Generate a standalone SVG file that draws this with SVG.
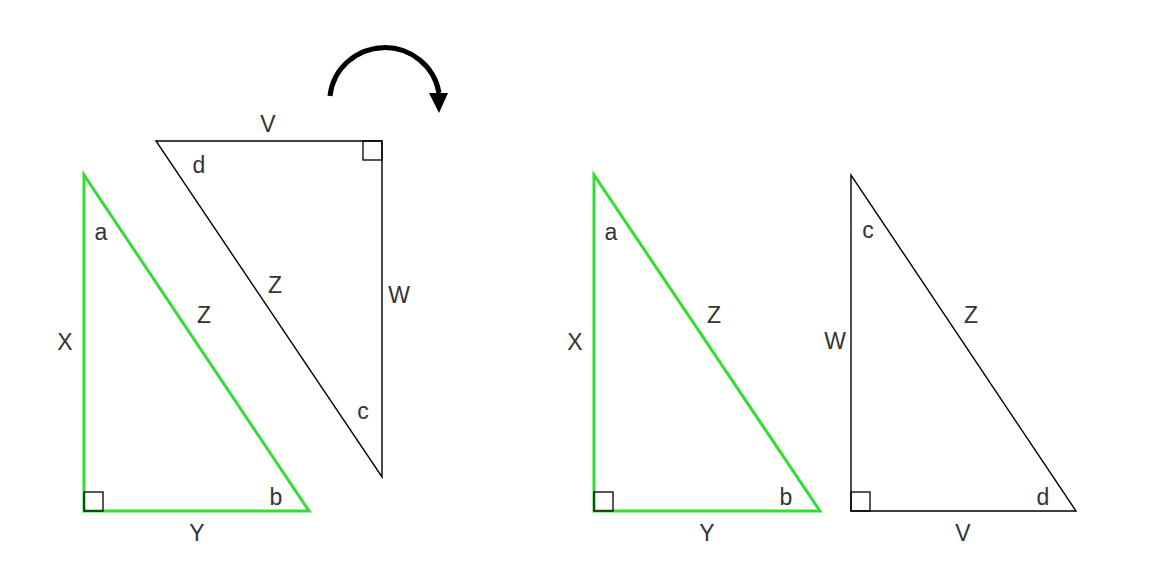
<svg xmlns="http://www.w3.org/2000/svg" width="1151" height="588" viewBox="0 0 1151 588">
<style>
.bg{fill:#ffffff}
.green{fill:none;stroke:#33dd33;stroke-width:3;stroke-linejoin:miter}
.black{fill:none;stroke:#000000;stroke-width:1.4}
.sq{fill:none;stroke:#000000;stroke-width:1.3}
.lbl{font-family:"Liberation Sans",Arial,sans-serif;font-size:23px;fill:#333333;text-anchor:middle}
.rot{fill:none;stroke:#000000;stroke-width:5;stroke-linecap:butt}
</style>
<defs>
<marker id="ah" viewBox="0 0 10 10" refX="5" refY="0" markerWidth="4" markerHeight="4" orient="auto" markerUnits="strokeWidth">
<path d="M0,0 L10,0 L5,10 Z" fill="#000000"/>
</marker>
</defs>
<rect class="bg" x="0" y="0" width="1151" height="588"/>
<g id="rotate-arrow">
<path class="rot" d="M330,96 A55,54 0 0 1 439,93"/>
<path d="M429,93 L448,93 L439,113 Z" fill="#000000"/>
</g>
<g id="tri-left-green">
<polygon class="green" points="84,175 84,511 309,511"/>
<rect class="sq" x="84" y="492" width="19" height="19"/>
<text class="lbl" x="101" y="240">a</text>
<text class="lbl" x="204" y="323">Z</text>
<text class="lbl" x="65" y="350">X</text>
<text class="lbl" x="276" y="505">b</text>
<text class="lbl" x="197" y="541">Y</text>
</g>
<g id="tri-left-black">
<polygon class="black" points="156,141 382,141 382,477"/>
<rect class="sq" x="363" y="141" width="19" height="19"/>
<text class="lbl" x="268" y="132">V</text>
<text class="lbl" x="199" y="173">d</text>
<text class="lbl" x="275" y="293">Z</text>
<text class="lbl" x="399" y="303">W</text>
<text class="lbl" x="363" y="419">c</text>
</g>
<g id="tri-right-green">
<polygon class="green" points="594,175 594,511 820,511"/>
<rect class="sq" x="594" y="492" width="19" height="19"/>
<text class="lbl" x="611" y="240">a</text>
<text class="lbl" x="714" y="323">Z</text>
<text class="lbl" x="575" y="350">X</text>
<text class="lbl" x="786" y="505">b</text>
<text class="lbl" x="707" y="541">Y</text>
</g>
<g id="tri-right-black">
<polygon class="black" points="851,175 851,511 1076,511"/>
<rect class="sq" x="851" y="492" width="19" height="19"/>
<text class="lbl" x="868" y="238">c</text>
<text class="lbl" x="971" y="323">Z</text>
<text class="lbl" x="835" y="349">W</text>
<text class="lbl" x="1043" y="505">d</text>
<text class="lbl" x="963" y="541">V</text>
</g>
<g id="connectors"></g>
</svg>
